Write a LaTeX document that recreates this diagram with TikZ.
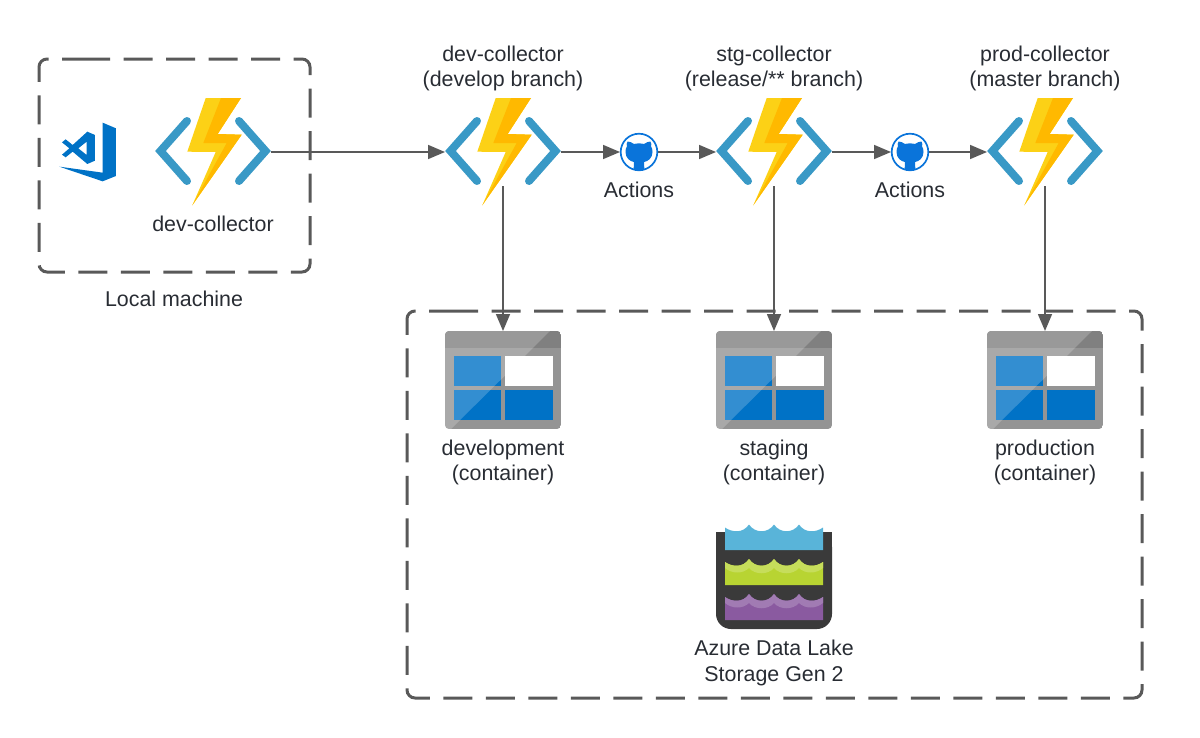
\documentclass[tikz,border=0pt]{standalone}
\usepackage{fontspec}
\setmainfont{Liberation Sans}
\usetikzlibrary{arrows.meta}
\definecolor{ink}{HTML}{282C33}
\definecolor{linegrey}{HTML}{595959}
\definecolor{chev}{HTML}{3999C6}
\definecolor{boltA}{HTML}{FCD116}
\definecolor{boltB}{HTML}{FFB900}
\definecolor{azblue}{HTML}{0072C6}
\definecolor{ghblue}{HTML}{0A74DA}
\definecolor{lakedark}{HTML}{3A3A3A}
\definecolor{lakeblue}{HTML}{59B4D9}
\definecolor{lakegreen}{HTML}{B8D432}
\definecolor{lakepurple}{HTML}{8A5AA0}
\tikzset{
  x=1pt,y=-1pt,
  lbl/.style={font=\fontsize{21.4}{25.6}\selectfont,text=ink,align=center,inner sep=0pt},
  dashbox/.style={draw=linegrey,line width=3pt,rounded corners=8pt,dash pattern=on 29pt off 13.5pt},
  conn/.style={draw=linegrey,line width=1.6pt,-{Triangle[length=17pt,width=14pt,fill=linegrey]},shorten >=0pt},
  fnbox/.style={minimum width=116pt,minimum height=68pt,inner sep=0pt,outer sep=0pt},
  ghbox/.style={circle,minimum size=38pt,inner sep=0pt,outer sep=0pt},
  ctbox/.style={minimum width=116pt,minimum height=98pt,inner sep=0pt,outer sep=0pt},
}
\newcommand{\fnicon}[2]{%
  \begin{scope}[shift={(#1,#2)}]
    \draw[chev,line width=8pt,line cap=round,miter limit=10] (-26,-30) -- (-52.5,0) -- (-26,30);
    \draw[chev,line width=8pt,line cap=round,miter limit=10] (26,-30) -- (52.5,0) -- (26,30);
    \fill[boltA] (-7.3,-53) -- (28,-53) -- (4.7,-17) -- (28.7,-16.3) -- (-20.7,54.3) -- (2.7,1) -- (-25.7,0.7) -- cycle;
    \fill[boltB] (8,-53) -- (28,-53) -- (4.7,-17) -- (28.7,-16.3) -- (-20.7,54.3) -- (13.7,-8) -- (-9.7,-8) -- cycle;
  \end{scope}}
\newcommand{\ghicon}[2]{%
  \begin{scope}[shift={(#1,#2)}]
    \draw[ghblue,line width=1.7pt] (0,0) circle[radius=18.3];
    \begin{scope}
      \clip (0,0) circle[radius=18];
      \fill[ghblue] (-13.5,0) .. controls (-13.5,-3) and (-13,-4.5) .. (-12,-5.5)
        .. controls (-12.5,-7) and (-12.5,-9) .. (-11.5,-10.5)
        .. controls (-9.5,-10.5) and (-7,-9.5) .. (-5,-8)
        .. controls (-2,-8.8) and (2,-8.8) .. (5,-8)
        .. controls (7,-9.5) and (9.5,-10.5) .. (11.5,-10.5)
        .. controls (12.5,-9) and (12.5,-7) .. (12,-5.5)
        .. controls (13,-4.5) and (13.5,-3) .. (13.5,0)
        .. controls (13.5,6) and (9,9.5) .. (5,10)
        -- (5.5,20) -- (-5.5,20) -- (-5,10)
        .. controls (-9,9.5) and (-13.5,6) .. (-13.5,0) -- cycle;
    \end{scope}
  \end{scope}}
\newcommand{\cticon}[2]{%
  \begin{scope}[shift={(#1,#2)}]
    \begin{scope}
      \clip[rounded corners=4pt] (-58,-49) rectangle (58,49);
      \fill[black!42] (-58,-49) rectangle (58,49);
      \fill[black!50] (-58,-49) rectangle (58,-32);
      \fill[azblue] (-49,-24) rectangle (-2,6);
      \fill[white] (2,-24) rectangle (50,6);
      \fill[azblue] (-49,10) rectangle (-2,40);
      \fill[azblue] (2,10) rectangle (50,40);
      \fill[white,opacity=0.2] (-58,-49) -- (47,-49) -- (-52,49) -- (-58,49) -- cycle;
    \end{scope}
  \end{scope}}
\newcommand{\waves}[3]{%
  \fill[#3] (-49,#1+3) .. controls (-42,#1+8) and (-31,#1+9) .. (-25,#1)
    .. controls (-19,#1+9) and (-6,#1+9) .. (0,#1)
    .. controls (6,#1+9) and (19,#1+9) .. (25,#1)
    .. controls (31,#1+9) and (42,#1+8) .. (49,#1+3)
    -- (49,#2) -- (-49,#2) -- cycle;}
\newcommand{\wavelite}[2]{%
  \fill[#2] (-49,#1+3) .. controls (-42,#1+8) and (-31,#1+9) .. (-25,#1)
    .. controls (-19,#1+9) and (-6,#1+9) .. (0,#1)
    .. controls (6,#1+9) and (19,#1+9) .. (25,#1)
    .. controls (31,#1+9) and (42,#1+8) .. (49,#1+3)
    -- (49,#1+9) .. controls (42,#1+15) and (31,#1+15) .. (25,#1+9)
    .. controls (19,#1+16) and (6,#1+16) .. (0,#1+9)
    .. controls (-6,#1+16) and (-19,#1+16) .. (-25,#1+9)
    .. controls (-31,#1+15) and (-42,#1+15) .. (-49,#1+9) -- cycle;}
\begin{document}
\begin{tikzpicture}
\useasboundingbox (0,0) rectangle (1200,737);
% dashed frames
\draw[dashbox] (73,59) -- (310,59) -- (310,272) -- (39,272) -- (39,59) -- cycle;
\draw[dashbox] (441,311) -- (1142,311) -- (1142,698) -- (407,698) -- (407,311) -- cycle;
% anchor nodes
\node[fnbox] (f1) at (213,152) {};
\node[fnbox] (f2) at (503,152) {};
\node[fnbox] (f3) at (774,152) {};
\node[fnbox] (f4) at (1045,152) {};
\node[ghbox] (g1) at (639,152) {};
\node[ghbox] (g2) at (910,152) {};
\node[ctbox] (c1) at (503,380) {};
\node[ctbox] (c2) at (774,380) {};
\node[ctbox] (c3) at (1045,380) {};
% connectors
\draw[conn] (f1.east) -- (f2.west);
\draw[conn] (f2.east) -- (g1.west);
\draw[conn] (g1.east) -- (f3.west);
\draw[conn] (f3.east) -- (g2.west);
\draw[conn] (g2.east) -- (f4.west);
\draw[conn] (f2.south) -- (c1.north);
\draw[conn] (f3.south) -- (c2.north);
\draw[conn] (f4.south) -- (c3.north);
% icons
\fnicon{213}{151}\fnicon{503}{151}\fnicon{774}{151}\fnicon{1045}{151}
\ghicon{639}{152}\ghicon{910}{152}
\cticon{503}{380}\cticon{774}{380}\cticon{1045}{380}
% VS Code
\begin{scope}[shift={(30,80)},x=0.3333pt,y=-0.3333pt]
  \fill[azblue] (218,128) -- (258,145) -- (258,288) -- (218,304) -- (88,260) -- (218,278) -- cycle;
  \fill[azblue,even odd rule] (107,178) -- (128,195) -- (172,155) -- (195,165) -- (195,242) -- (172,252) -- (128,215) -- (107,232) -- (96,224) -- (118,205) -- (96,187) -- cycle
    (170,185) -- (170,225) -- (145,205) -- cycle;
\end{scope}
% Data lake
\begin{scope}[shift={(774,0)}]
  \fill[lakedark,rounded corners=15pt] (-58,532) -- (58,532) -- (58,629) -- (-58,629) -- cycle;
  \fill[lakedark] (-58,532) rectangle (58,560);
  \waves{524.5}{550}{lakeblue}
  \waves{559}{585}{lakegreen}
  \wavelite{559}{lakegreen!80!white}
  \waves{594}{620}{lakepurple}
  \wavelite{594}{lakepurple!80!white}
\end{scope}
% labels
\node[lbl] (t1) at (213,223.7) {dev-collector};
\node[lbl] (t2) at (174,298.7) {Local machine};
\node[lbl] (t3) at (503,68.5) {dev-collector\\(develop branch)};
\node[lbl] (t4) at (774,68.5) {stg-collector\\(release/** branch)};
\node[lbl] (t5) at (1045,68.5) {prod-collector\\(master branch)};
\node[lbl] (t6) at (639,189.7) {Actions};
\node[lbl] (t7) at (910,189.7) {Actions};
\node[lbl] (t8) at (503,462.5) {development\\(container)};
\node[lbl] (t9) at (774,462.5) {staging\\(container)};
\node[lbl] (t10) at (1045,462.5) {production\\(container)};
\node[lbl] (t11) at (774,663) {Azure Data Lake\\Storage Gen 2};
\end{tikzpicture}
\end{document}
